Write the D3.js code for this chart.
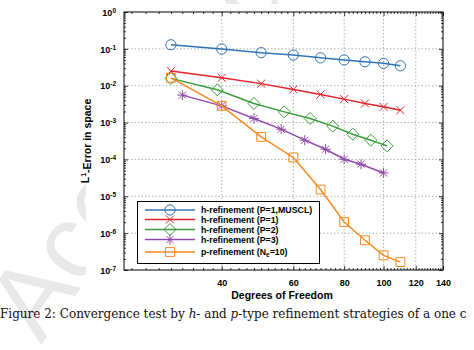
<!DOCTYPE html>
<html>
<head>
<meta charset="utf-8">
<script src="https://cdn.jsdelivr.net/npm/d3@7"></script>
<style>
  body { margin: 0; background: #fff; }
  svg { display: block; }
</style>
</head>
<body>
<div id="chart"></div>
<script>
// values
const dofA = [30, 40, 50, 60, 70, 80, 90, 100, 110];
const dofP2 = [30, 39, 48, 57, 66, 75, 84, 93, 102];
const dofP3 = [32, 40, 48, 56, 64, 72, 80, 88, 100];

const errMuscl = [0.129, 0.099, 0.079, 0.068, 0.057, 0.050, 0.0446, 0.0404, 0.0347];
const errP1 = [0.0249, 0.0164, 0.0114, 0.0079, 0.0058, 0.00433, 0.0033, 0.00267, 0.00217];
const errP2 = [0.0158, 0.00774, 0.0033, 0.00195, 0.00129, 0.0008, 0.000484, 0.000333, 0.000233];
const errP3 = [0.00556, 0.00284, 0.00129, 0.000662, 0.000333, 0.000189, 0.000101, 0.0000741, 0.000043];
const errPref = [0.0164, 0.00284, 0.000409, 0.000113, 1.52e-5, 2.0e-6, 6.4e-7, 2.5e-7, 1.64e-7];

const xTicks = [40, 60, 80, 100, 120, 140];
const yTicks = [1e-7, 1e-6, 1e-5, 1e-4, 1e-3, 1e-2, 1e-1, 1];

const series = [
  {name: "h-refinement (P=1,MUSCL)", x: dofA, y: errMuscl, color: "#3274b6", marker: "circle"},
  {name: "h-refinement (P=1)", x: dofA, y: errP1, color: "#e3222b", marker: "x"},
  {name: "h-refinement (P=2)", x: dofP2, y: errP2, color: "#3a9c3a", marker: "diamond"},
  {name: "h-refinement (P=3)", x: dofP3, y: errP3, color: "#8f4aa8", marker: "asterisk"},
  {name: "p-refinement (N", sub: "e", after: "=10)", x: dofA, y: errPref, color: "#f7891f", marker: "square"}
];

const width = 474, height = 350;
const margin = {top: 12, right: 31, bottom: 80, left: 124};

const svg = d3.select("#chart").append("svg")
    .attr("width", width)
    .attr("height", height)
    .attr("font-family", "Liberation Sans, Arial, sans-serif");

// watermark, mostly hidden behind the figure's white background
svg.append("text")
    .attr("transform", "translate(41,345) rotate(-55)")
    .attr("font-size", 105)
    .attr("fill", "#e8e8e8")
    .text("Accepted Manuscript");
svg.append("rect")
    .attr("x", 86).attr("y", 4)
    .attr("width", width - 86).attr("height", 298)
    .attr("fill", "#fff");

const x = d3.scaleLog([23, 140], [margin.left, width - margin.right]);
const y = d3.scaleLog([1e-7, 1], [height - margin.bottom, margin.top]);

const plotH = height - margin.bottom - margin.top;
const plotW = width - margin.right - margin.left;

// grid
const grid = svg.append("g")
    .attr("stroke", "#9a9a9a")
    .attr("stroke-width", 0.8)
    .attr("stroke-dasharray", "1.5,2");
grid.selectAll(".gx")
  .data(xTicks.filter(d => d < 140))
  .join("line")
    .attr("x1", d => x(d)).attr("x2", d => x(d))
    .attr("y1", margin.top).attr("y2", height - margin.bottom);
grid.selectAll(".gy")
  .data(yTicks.slice(1, -1))
  .join("line")
    .attr("y1", d => y(d)).attr("y2", d => y(d))
    .attr("x1", margin.left).attr("x2", width - margin.right);

// minor ticks
const xMinor = d3.range(24, 140, 2).filter(d => !xTicks.includes(d));
const yMinor = [];
for (let e = -7; e < 0; e++) for (let k = 2; k <= 9; k++) yMinor.push(k * Math.pow(10, e));

const axisStyle = g => g.call(g => g.select(".domain").remove())
    .call(g => g.selectAll(".tick line").attr("stroke", "#000").attr("stroke-width", 0.8));

svg.append("g")
    .attr("transform", `translate(0,${height - margin.bottom})`)
    .call(d3.axisBottom(x).tickValues(xMinor).tickSize(-2).tickFormat(""))
    .call(axisStyle);
svg.append("g")
    .attr("transform", `translate(0,${margin.top})`)
    .call(d3.axisTop(x).tickValues(xMinor).tickSize(-2).tickFormat(""))
    .call(axisStyle);
svg.append("g")
    .attr("transform", `translate(${margin.left},0)`)
    .call(d3.axisLeft(y).tickValues(yMinor).tickSize(-2).tickFormat(""))
    .call(axisStyle);
svg.append("g")
    .attr("transform", `translate(${width - margin.right},0)`)
    .call(d3.axisRight(y).tickValues(yMinor).tickSize(-2).tickFormat(""))
    .call(axisStyle);

// major ticks + labels
svg.append("g")
    .attr("transform", `translate(0,${height - margin.bottom})`)
    .call(d3.axisBottom(x).tickValues(xTicks).tickSizeInner(-4).tickSizeOuter(0).tickPadding(10).tickFormat(d3.format("d")))
    .call(axisStyle)
    .call(g => g.selectAll(".tick text")
        .attr("font-size", 9).attr("font-weight", "bold").attr("fill", "#000")
        .attr("font-family", "Liberation Sans, Arial, sans-serif"));
svg.append("g")
    .attr("transform", `translate(0,${margin.top})`)
    .call(d3.axisTop(x).tickValues(xTicks).tickSize(-4).tickFormat(""))
    .call(axisStyle);
svg.append("g")
    .attr("transform", `translate(${width - margin.right},0)`)
    .call(d3.axisRight(y).tickValues(yTicks).tickSize(-4).tickFormat(""))
    .call(axisStyle);
const yAx = svg.append("g")
    .attr("transform", `translate(${margin.left},0)`)
    .call(d3.axisLeft(y).tickValues(yTicks).tickSize(-4).tickFormat(""))
    .call(axisStyle);
yAx.selectAll(".tick").append("text")
    .attr("x", -8)
    .attr("dy", "0.35em")
    .attr("text-anchor", "end")
    .attr("fill", "#000")
    .attr("font-weight", "bold")
    .attr("font-size", 9)
    .attr("font-family", "Liberation Sans, Arial, sans-serif")
    .call(t => t.append("tspan").text("10"))
    .call(t => t.append("tspan")
        .attr("dy", "-0.45em")
        .attr("font-size", 6.5)
        .text(d => Math.round(Math.log10(d)) === 0 ? "0" : "-" + Math.abs(Math.round(Math.log10(d)))));

// box
svg.append("rect")
    .attr("x", margin.left).attr("y", margin.top)
    .attr("width", plotW).attr("height", plotH)
    .attr("fill", "none").attr("stroke", "#000").attr("stroke-width", 1);

// marker paths
function markerPath(type) {
  if (type === "circle") return d3.symbol(d3.symbolCircle, 82)();
  if (type === "square") return d3.symbol(d3.symbolSquare, 78)();
  if (type === "diamond") return "M0,-6L6,0L0,6L-6,0Z";
  if (type === "x") return "M-4,-4L4,4M-4,4L4,-4";
  return "M0,-5L0,5M-5,0L5,0M-3.6,-3.6L3.6,3.6M-3.6,3.6L3.6,-3.6";
}

const line = d3.line();
series.forEach(s => {
  const pts = s.x.map((d, i) => [x(d), y(s.y[i])]);
  const g = svg.append("g");
  g.append("path")
      .attr("d", line(pts))
      .attr("fill", "none")
      .attr("stroke", s.color)
      .attr("stroke-width", 1.5);
  g.selectAll("path.m")
    .data(pts)
    .join("path")
      .attr("class", "m")
      .attr("transform", d => `translate(${d[0]},${d[1]})`)
      .attr("d", markerPath(s.marker))
      .attr("fill", "none")
      .attr("stroke", s.color)
      .attr("stroke-width", 1);
});

// legend
const lg = svg.append("g");
lg.append("rect")
    .attr("x", 137.5).attr("y", 201.5)
    .attr("width", 182).attr("height", 62)
    .attr("fill", "#fff").attr("stroke", "#000").attr("stroke-width", 1);
const rowY = [210, 219.5, 229.5, 239.5, 252];
series.forEach((s, i) => {
  const r = lg.append("g").attr("transform", `translate(0,${rowY[i]})`);
  r.append("line").attr("x1", 145).attr("x2", 195)
      .attr("stroke", s.color).attr("stroke-width", 1.5);
  r.append("path").attr("transform", "translate(170,0)")
      .attr("d", markerPath(s.marker))
      .attr("fill", "none").attr("stroke", s.color).attr("stroke-width", 1);
  const t = r.append("text")
      .attr("x", 201).attr("dy", "0.35em")
      .attr("font-size", 8.8).attr("font-weight", "bold")
      .text(s.name);
  if (s.sub) {
    t.append("tspan").attr("dy", "0.35em").attr("font-size", 6.5).text(s.sub);
    t.append("tspan").attr("dy", "-0.3em").text(s.after);
  }
});

// axis titles
svg.append("text")
    .attr("x", 282).attr("y", 299)
    .attr("text-anchor", "middle")
    .attr("font-size", 10.5).attr("font-weight", "bold")
    .text("Degrees of Freedom");
svg.append("text")
    .attr("transform", "translate(89,141) rotate(-90)")
    .attr("text-anchor", "middle")
    .attr("font-size", 10.5).attr("font-weight", "bold")
    .call(t => t.append("tspan").text("L"))
    .call(t => t.append("tspan").attr("dy", "-0.45em").attr("font-size", 7).text("1"))
    .call(t => t.append("tspan").attr("dy", "0.45em").text("-Error in space"));

// caption
svg.append("text")
    .attr("x", 0).attr("y", 318)
    .attr("font-family", "DejaVu Serif, serif")
    .attr("font-size", 12)
    .attr("fill", "#111")
    .call(t => t.append("tspan").text("Figure 2:  Convergence test by "))
    .call(t => t.append("tspan").attr("font-style", "italic").text("h"))
    .call(t => t.append("tspan").text("- and "))
    .call(t => t.append("tspan").attr("font-style", "italic").text("p"))
    .call(t => t.append("tspan").text("-type refinement strategies of a one c"));
</script>
</body>
</html>
